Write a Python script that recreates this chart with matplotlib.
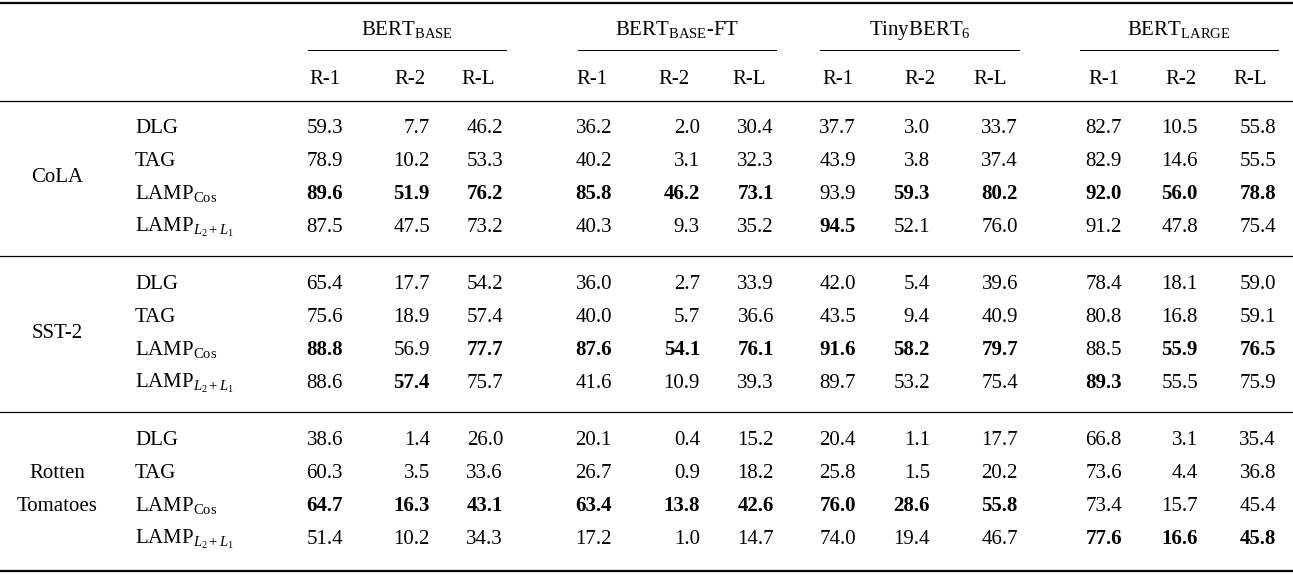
import matplotlib.pyplot as plt
from matplotlib.lines import Line2D

plt.rcParams.update({
    "font.family": ["Liberation Serif", "DejaVu Serif"],
    "mathtext.fontset": "custom",
    "mathtext.rm": "Liberation Serif",
    "mathtext.it": "Liberation Serif:italic",
    "mathtext.bf": "Liberation Serif:bold",
})

MODELS = [r"BERT$_{\mathrm{BASE}}$", r"BERT$_{\mathrm{BASE}}$-FT", r"TinyBERT$_6$", r"BERT$_{\mathrm{LARGE}}$"]
METRICS = ["R-1", "R-2", "R-L"]
DATASETS = ["CoLA", "SST-2", "Rotten\nTomatoes"]
METHODS = ["DLG", "TAG", r"LAMP$_{\mathrm{Cos}}$", r"LAMP$_{L_2+L_1}$"]

COLA = [
    [59.3, 7.7, 46.2, 36.2, 2.0, 30.4, 37.7, 3.0, 33.7, 82.7, 10.5, 55.8],
    [78.9, 10.2, 53.3, 40.2, 3.1, 32.3, 43.9, 3.8, 37.4, 82.9, 14.6, 55.5],
    [89.6, 51.9, 76.2, 85.8, 46.2, 73.1, 93.9, 59.3, 80.2, 92.0, 56.0, 78.8],
    [87.5, 47.5, 73.2, 40.3, 9.3, 35.2, 94.5, 52.1, 76.0, 91.2, 47.8, 75.4],
]
SST2 = [
    [65.4, 17.7, 54.2, 36.0, 2.7, 33.9, 42.0, 5.4, 39.6, 78.4, 18.1, 59.0],
    [75.6, 18.9, 57.4, 40.0, 5.7, 36.6, 43.5, 9.4, 40.9, 80.8, 16.8, 59.1],
    [88.8, 56.9, 77.7, 87.6, 54.1, 76.1, 91.6, 58.2, 79.7, 88.5, 55.9, 76.5],
    [88.6, 57.4, 75.7, 41.6, 10.9, 39.3, 89.7, 53.2, 75.4, 89.3, 55.5, 75.9],
]
RT = [
    [38.6, 1.4, 26.0, 20.1, 0.4, 15.2, 20.4, 1.1, 17.7, 66.8, 3.1, 35.4],
    [60.3, 3.5, 33.6, 26.7, 0.9, 18.2, 25.8, 1.5, 20.2, 73.6, 4.4, 36.8],
    [64.7, 16.3, 43.1, 63.4, 13.8, 42.6, 76.0, 28.6, 55.8, 73.4, 15.7, 45.4],
    [51.4, 10.2, 34.3, 17.2, 1.0, 14.7, 74.0, 19.4, 46.7, 77.6, 16.6, 45.8],
]
# 1 = bold cell
BOLD_COLA = [
    [0] * 12, [0] * 12,
    [1, 1, 1, 1, 1, 1, 0, 1, 1, 1, 1, 1],
    [0, 0, 0, 0, 0, 0, 1, 0, 0, 0, 0, 0],
]
BOLD_SST2 = [
    [0] * 12, [0] * 12,
    [1, 0, 1, 1, 1, 1, 1, 1, 1, 0, 1, 1],
    [0, 1, 0, 0, 0, 0, 0, 0, 0, 1, 0, 0],
]
BOLD_RT = [
    [0] * 12, [0] * 12,
    [1, 1, 1, 1, 1, 1, 1, 1, 1, 0, 0, 0],
    [0, 0, 0, 0, 0, 0, 0, 0, 0, 1, 1, 1],
]
TABLES = [(COLA, BOLD_COLA), (SST2, BOLD_SST2), (RT, BOLD_RT)]

W, H = 1293, 576
fig = plt.figure(figsize=(W / 100, H / 100), dpi=100)
ax = fig.add_axes([0, 0, 1, 1])
ax.set_xlim(0, W)
ax.set_ylim(H, 0)
ax.axis("off")
FS = 15
BASE_OFF = 7  # baseline offset below row centre

COL_RIGHT = [[343, 430, 503], [612, 700, 774], [856, 930, 1018], [1122, 1198, 1276]]
HEAD_X = [[325, 410, 478], [592, 674, 749], [838, 920, 990], [1104, 1181, 1250]]
SPAN = [(308, 506), (578, 776), (820, 1019), (1080, 1278)]


def hline(x0, x1, y, lw):
    ax.add_line(Line2D([x0, x1], [y, y], color="black", lw=lw))


def txt(x, y, s, ha="left", **kw):
    ax.text(x, y + BASE_OFF, s, ha=ha, va="baseline", fontsize=FS, **kw)


hline(0, W, 3, 1.6)
for m, (a, b) in enumerate(SPAN):
    txt((a + b) / 2, 28, MODELS[m], ha="center")
    hline(a, b, 50, 0.7)
    for k in range(3):
        txt(HEAD_X[m][k], 77, METRICS[k], ha="center")
hline(0, W, 101, 0.9)

ROW0 = [126, 282, 438]
DY = 33
for g, (vals, bold) in enumerate(TABLES):
    y0 = ROW0[g]
    lines = DATASETS[g].split("\n")
    yc = y0 + 1.5 * DY
    for i, s in enumerate(lines):
        txt(57, yc + (i - (len(lines) - 1) / 2) * DY, s, ha="center")
    for r in range(4):
        y = y0 + r * DY
        txt(135, y, METHODS[r])
        for c in range(12):
            txt(COL_RIGHT[c // 3][c % 3], y, f"{vals[r][c]:.1f}", ha="right",
                fontweight="bold" if bold[r][c] else "normal")
    if g < 2:
        hline(0, W, y0 + 3 * DY + 31, 0.9)
hline(0, W, 571, 1.6)

fig.savefig("out.png", dpi=100, facecolor="white")
